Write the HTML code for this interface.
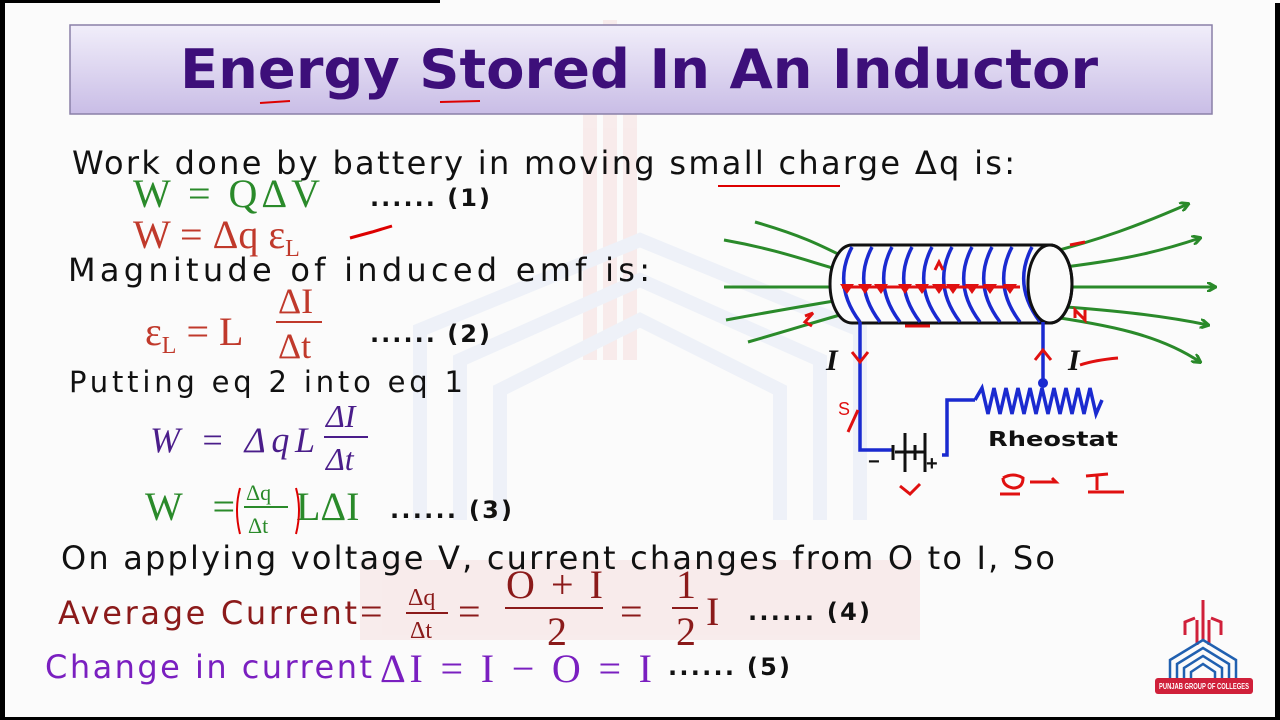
<!DOCTYPE html>
<html><head><meta charset="utf-8"><style>
html,body{margin:0;padding:0;background:#000;}
svg{display:block}
</style></head><body>
<svg width="1280" height="720" viewBox="0 0 1280 720" xmlns="http://www.w3.org/2000/svg">
<defs>
<linearGradient id="tg" x1="0" y1="0" x2="0" y2="1">
<stop offset="0" stop-color="#f1eefa"/><stop offset="1" stop-color="#c9bde6"/>
</linearGradient>
<marker id="ga" markerWidth="10" markerHeight="10" refX="8" refY="5" orient="auto" markerUnits="userSpaceOnUse"><path d="M0,0 L9,5 L0,10" fill="none" stroke="#2a8a2a" stroke-width="3"/></marker>
</defs>
<rect x="5" y="3" width="1270" height="714" fill="#fbfbfb"/>
<rect x="440" y="0" width="840" height="3" fill="#fbfbfb"/>
<g opacity="0.06" fill="none" stroke-width="14">
<path d="M590,360 L590,60 M610,360 L610,20 M630,360 L630,60" stroke="#c00"/>
<path d="M420,520 L420,330 L640,240 L860,330 L860,520" stroke="#36c"/>
<path d="M460,520 L460,360 L640,280 L820,360 L820,520" stroke="#36c"/>
<path d="M500,520 L500,390 L640,320 L780,390 L780,520" stroke="#36c"/>
<rect x="360" y="560" width="560" height="80" fill="#c00" stroke="none"/>
</g>
<rect x="70" y="25" width="1142" height="89" fill="url(#tg)" stroke="#8a80a8" stroke-width="1.5"/>
<text x="180" y="88" textLength="918" lengthAdjust="spacingAndGlyphs" font-family="DejaVu Sans, sans-serif" font-weight="bold" font-size="54" fill="#3d0f7a">Energy Stored In An Inductor</text>
<path d="M260,103 L290,101 M440,102 L480,101" stroke="#d00" stroke-width="2"/>

<g font-family="DejaVu Sans, sans-serif" font-size="32" fill="#111" lengthAdjust="spacingAndGlyphs">
<text x="72" y="174" textLength="943">Work done by battery in moving small charge Δq is:</text>
<text x="68" y="281" textLength="582">Magnitude of induced emf is:</text>
<text x="69" y="392" font-size="29" textLength="394">Putting eq 2 into eq 1</text>
<text x="61" y="569" textLength="994">On applying voltage V, current changes from O to I, So</text>
<text x="58" y="624" fill="#8b1a1a" textLength="299">Average Current</text>
<text x="45" y="678" fill="#7a1fc0" textLength="327">Change in current</text>
</g>
<path d="M718,186 L840,186" stroke="#d00" stroke-width="2"/>
<g font-family="Liberation Serif, serif" font-size="40" lengthAdjust="spacingAndGlyphs">
<text x="133" y="207" fill="#2a8a2a" textLength="187">W = QΔV</text>
<text x="133" y="248" fill="#c0392b">W = Δq ε<tspan font-size="24" dy="8">L</tspan></text>
<text x="145" y="345" fill="#c0392b">ε<tspan font-size="24" dy="8">L</tspan><tspan dy="-8"> = L</tspan></text>
<text x="278" y="313" fill="#c0392b" font-size="36">ΔI</text>
<line x1="276" y1="322" x2="322" y2="322" stroke="#c0392b" stroke-width="2"/>
<text x="278" y="358" fill="#c0392b" font-size="36">Δt</text>
<text x="150" y="452" fill="#4a1d8a" font-style="italic" font-size="36" textLength="165">W = ΔqL</text>
<text x="326" y="427" fill="#4a1d8a" font-style="italic" font-size="32">ΔI</text>
<line x1="324" y1="437" x2="368" y2="437" stroke="#4a1d8a" stroke-width="2"/>
<text x="326" y="470" fill="#4a1d8a" font-style="italic" font-size="32">Δt</text>
<text x="145" y="520" fill="#2a8a2a" textLength="90">W =</text>
<text x="246" y="500" fill="#2a8a2a" font-size="22">Δq</text>
<line x1="244" y1="507" x2="288" y2="507" stroke="#2a8a2a" stroke-width="2"/>
<text x="248" y="533" fill="#2a8a2a" font-size="22">Δt</text>
<text x="296" y="520" fill="#2a8a2a">LΔI</text>
<text x="360" y="625" fill="#8b1a1a">=</text>
<text x="408" y="605" fill="#8b1a1a" font-size="24">Δq</text>
<line x1="406" y1="613" x2="448" y2="613" stroke="#8b1a1a" stroke-width="2"/>
<text x="410" y="638" fill="#8b1a1a" font-size="24">Δt</text>
<text x="458" y="625" fill="#8b1a1a">=</text>
<text x="506" y="598" fill="#8b1a1a" textLength="97">O + I</text>
<line x1="505" y1="608" x2="603" y2="608" stroke="#8b1a1a" stroke-width="2"/>
<text x="547" y="645" fill="#8b1a1a">2</text>
<text x="620" y="625" fill="#8b1a1a">=</text>
<text x="676" y="598" fill="#8b1a1a">1</text>
<line x1="672" y1="608" x2="698" y2="608" stroke="#8b1a1a" stroke-width="2"/>
<text x="676" y="645" fill="#8b1a1a">2</text>
<text x="706" y="625" fill="#8b1a1a">I</text>
<text x="380" y="682" fill="#7a1fc0" textLength="272">ΔI = I − O = I</text>
</g>
<path d="M240,488 Q234,510 240,534 M296,488 Q302,510 296,534" fill="none" stroke="#d00" stroke-width="2"/>
<path d="M350,238 L372,232 L392,226" stroke="#d00" stroke-width="3" fill="none"/>
<g font-family="DejaVu Sans, sans-serif" font-weight="bold" font-size="24" fill="#111" lengthAdjust="spacingAndGlyphs">
<text x="370" y="206" textLength="120">...... (1)</text>
<text x="370" y="342" textLength="120">...... (2)</text>
<text x="390" y="518" textLength="122">...... (3)</text>
<text x="748" y="620" textLength="122">...... (4)</text>
<text x="668" y="675" textLength="122">...... (5)</text>
</g>

<g fill="none" stroke="#2a8a2a" stroke-width="3" marker-end="url(#ga)">
<path d="M1040,255 C1100,240 1140,225 1188,204"/>
<path d="M1040,270 C1110,262 1150,255 1200,238"/>
<path d="M1040,287 L1215,287"/>
<path d="M1040,305 C1110,310 1160,315 1208,325"/>
<path d="M1040,315 C1110,325 1160,335 1200,362"/>
</g>
<g fill="none" stroke="#2a8a2a" stroke-width="3">
<path d="M755,222 C800,235 820,245 840,255"/>
<path d="M724,240 C780,250 810,262 840,270"/>
<path d="M724,287 L840,287"/>
<path d="M726,320 C780,310 810,305 840,300"/>
<path d="M748,342 C790,330 815,322 840,315"/>
</g>
<path d="M852,245 L1050,245 A22,39 0 0 1 1050,323 L852,323 A22,39 0 0 1 852,245 Z" fill="#fbfbfb" stroke="#111" stroke-width="3"/>
<g fill="none" stroke="#1a2ad0" stroke-width="3.5">
<path d="M852,247 Q832,285 860,322"/>
<path d="M872,247 Q852,285 880,322"/>
<path d="M892,247 Q872,285 900,322"/>
<path d="M912,247 Q892,285 920,322"/>
<path d="M932,247 Q912,285 940,322"/>
<path d="M952,247 Q932,285 960,322"/>
<path d="M972,247 Q952,285 980,322"/>
<path d="M992,247 Q972,285 1000,322"/>
<path d="M1012,247 Q992,285 1020,322"/>
<path d="M1032,247 Q1012,285 1040,322"/>
</g>
<line x1="842" y1="287" x2="1020" y2="287" stroke="#e01010" stroke-width="3"/>
<g fill="#e01010">
<path d="M840,284 l7,10 l7,-10z M858,284 l7,10 l7,-10z M874,284 l7,10 l7,-10z M898,284 l7,10 l7,-10z M915,284 l7,10 l7,-10z M932,284 l7,10 l7,-10z M946,284 l7,10 l7,-10z M965,284 l7,10 l7,-10z M983,284 l7,10 l7,-10z M1003,284 l7,10 l7,-10z"/>
</g>
<ellipse cx="1050" cy="284" rx="22" ry="39" fill="none" stroke="#111" stroke-width="3"/>
<g fill="none" stroke="#1a2ad0" stroke-width="3.5">
<path d="M860,322 L860,450 L893,450"/>
<path d="M942,455 L947,455 L947,400 L975,400"/>
<path d="M975,400 L982,388 L988,414 L994,388 L1000,414 L1006,388 L1012,414 L1018,388 L1024,414 L1030,388 L1036,414 L1042,388 L1048,414 L1054,388 L1060,414 L1066,388 L1072,414 L1078,388 L1084,414 L1090,388 L1096,414 L1102,400"/>
<path d="M1043,322 L1043,385"/>
</g>
<circle cx="1043" cy="383" r="5" fill="#1a2ad0"/>
<g stroke="#111" stroke-width="3">
<line x1="893" y1="445" x2="893" y2="460"/><line x1="905" y1="433" x2="905" y2="472"/>
<line x1="915" y1="445" x2="915" y2="460"/><line x1="925" y1="433" x2="925" y2="472"/>
<line x1="895" y1="452" x2="925" y2="452"/>
</g>
<text x="868" y="468" font-family="Liberation Sans, sans-serif" font-size="20" font-weight="bold" fill="#111">−</text>
<text x="926" y="470" font-family="Liberation Sans, sans-serif" font-size="20" font-weight="bold" fill="#111">+</text>
<text x="988" y="446" font-family="DejaVu Sans, sans-serif" font-size="20" font-weight="bold" fill="#111" textLength="130" lengthAdjust="spacingAndGlyphs">Rheostat</text>
<g font-family="Liberation Serif, serif" font-style="italic" font-weight="bold" font-size="30" fill="#111">
<text x="826" y="370">I</text><text x="1068" y="370">I</text>
</g>
<g fill="none" stroke="#e01010" stroke-width="3">
<path d="M852,352 L860,362 L868,352"/>
<path d="M1035,360 L1043,350 L1051,360"/>
<path d="M848,432 L858,410"/>
<path d="M900,486 L910,494 L920,484"/>
<path d="M1003,478 Q1013,472 1023,478 Q1023,488 1013,488 Q1003,486 1003,478 M1030,482 L1056,482 L1052,478 M1086,476 L1108,474 M1097,475 L1097,490 M1088,492 L1124,492 M1000,494 L1020,494"/>
<path d="M1080,365 Q1095,360 1118,358"/>
<path d="M1070,245 L1085,242 M805,316 L813,313 L805,322 L812,326 M1075,318 L1075,310 L1085,320 L1085,310 M905,326 L930,326 M935,270 L939,262 L943,270"/>
</g>
<text x="838" y="415" font-family="Liberation Sans, sans-serif" font-size="18" fill="#e01010">S</text>
<g transform="translate(1155,600)">
<path d="M48,0 L48,40 M42,20 L42,45 M54,20 L54,45 M30,35 L30,22 L40,18 M66,35 L66,22 L56,18" stroke="#d0203a" stroke-width="3" fill="none"/>
<path d="M15,80 L15,60 L48,40 L81,60 L81,80 M22,80 L22,64 L48,48 L74,64 L74,80 M29,80 L29,68 L48,56 L67,68 L67,80 M36,80 L36,72 L48,64 L60,72 L60,80" stroke="#2060b0" stroke-width="2.5" fill="none"/>
<rect x="0" y="78" width="98" height="16" rx="3" fill="#d0203a"/>
<text x="49" y="89" text-anchor="middle" textLength="90" lengthAdjust="spacingAndGlyphs" font-family="Liberation Sans, sans-serif" font-size="8" font-weight="bold" fill="#fff">PUNJAB GROUP OF COLLEGES</text>
</g>
</svg>
</body></html>
